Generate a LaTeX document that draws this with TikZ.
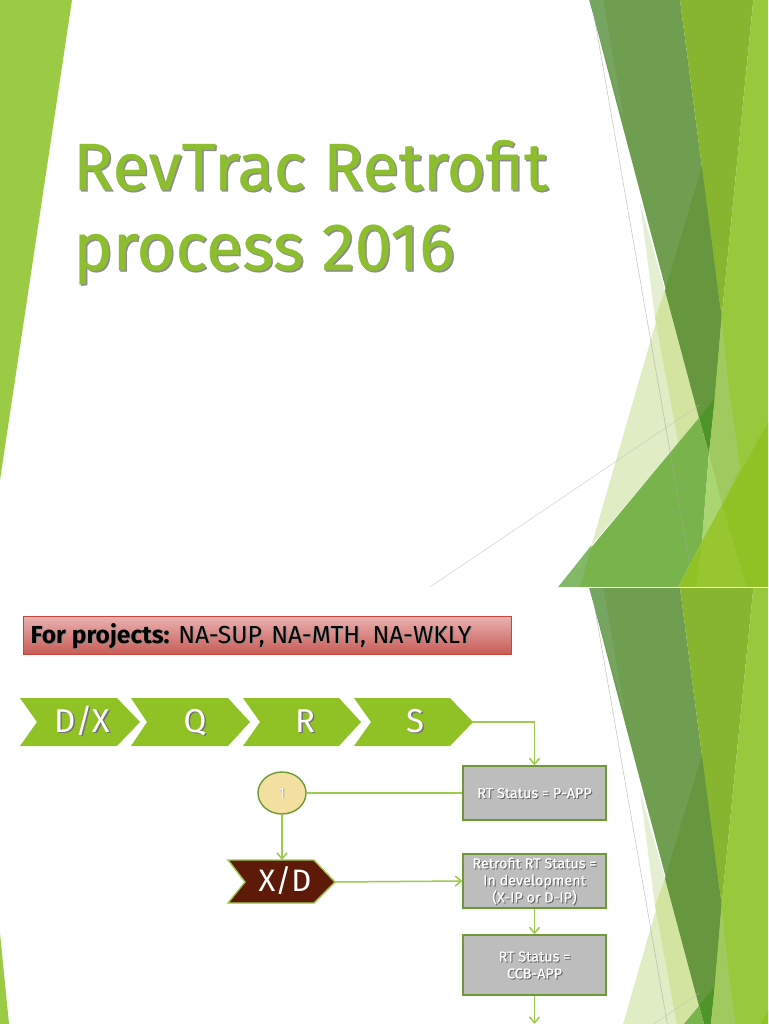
\documentclass[tikz,border=0pt]{standalone}
\usepackage{fontspec}
\setmainfont{Fira Sans}
\newfontfamily\titlef[FakeBold=0.6]{Fira Sans}
\newfontfamily\boxf[FakeBold=0.3]{Fira Sans}
\usetikzlibrary{arrows.meta,shapes.geometric}
\definecolor{ttl}{HTML}{8DBE2F}
\definecolor{lime}{HTML}{90C226}
\definecolor{lnk}{HTML}{9CCB4E}
\definecolor{bord}{HTML}{6E9A35}
\tikzset{
  chevron/.style={fill=lime,draw=none},
  chevtext/.style={text=white,font=\fontsize{33}{36}\selectfont,inner sep=0pt,anchor=base},
  chevshadow/.style={text=black!55,font=\fontsize{33}{36}\selectfont,inner sep=0pt,anchor=base},
  statusbox/.style={draw=bord,line width=1.3pt,fill=black!26,minimum width=143pt,inner sep=0pt},
  boxtext/.style={text=white,font=\boxf\fontsize{14.4}{17}\selectfont,align=center,inner sep=0pt},
  boxshadow/.style={text=black!60,font=\boxf\fontsize{14.4}{17}\selectfont,align=center,inner sep=0pt},
  link/.style={draw=lnk,line width=1.5pt},
  flow/.style={link,-{Straight Barb[length=6pt,width=10pt]}},
  titletext/.style={text=ttl,font=\titlef\fontsize{66.7}{70}\selectfont,anchor=base west,inner sep=0pt},
  titleshadow/.style={text=black!45,font=\titlef\fontsize{66.7}{70}\selectfont,anchor=base west,inner sep=0pt},
}
\newcommand{\facets}{%
  % pale triangles
  \fill[color={rgb,255:red,224;green,236;blue,196}] (375,760)--(477,1093)--(390,1185)--(155,1425)--cycle;
  \fill[color={rgb,255:red,228;green,238;blue,208}] (300,530)--(375,760)--(345,830)--cycle;
  \fill[color={rgb,255:red,211;green,227;blue,160}] (345,830)--(375,760)--(477,1093)--(415,1160)--cycle;
  % dark facet
  \fill[color={rgb,255:red,111;green,158;blue,80}] (148,0)--(420,0)--(545,830)--(525,1041)--(507,1185)--cycle;
  \fill[color={rgb,255:red,118;green,165;blue,98}] (148,0)--(190,0)--(255,330)--cycle;
  \fill[color={rgb,255:red,102;green,150;blue,62}] (488,430)--(375,760)--(477,1093)--(525,1041)--(545,830)--cycle;
  \fill[color={rgb,255:red,78;green,148;blue,40}] (477,1093)--(525,1041)--(507,1185)--cycle;
  % big triangle
  \fill[color={rgb,255:red,120;green,179;blue,76}] (55,1535)--(477,1093)--(507,1185)--(486,1417)--(414,1535)--cycle;
  \fill[color={rgb,255:red,130;green,184;blue,104}] (55,1535)--(155,1425)--(120,1535)--cycle;
  % thin lines
  \draw[black!35,opacity=.7,line width=.5pt] (160,30)--(450,1480);
  \draw[black!25,opacity=.7,line width=.5pt] (-330,1535)--(477,1060);
  % right facets
  \fill[color={rgb,255:red,135;green,181;blue,48}] (420,0)--(640,0)--(545,830)--cycle;
  \fill[color={rgb,255:red,152;green,201;blue,60}] (640,0)--(690,0)--(690,1535)--(470,1535)--(486,1417)--(545,830)--cycle;
  \fill[color={rgb,255:red,160;green,202;blue,96}] (545,830)--(565,1000)--(600,1224)--(546,1320)--(507,1185)--(525,1041)--cycle;
  \fill[color={rgb,255:red,170;green,214;blue,114}] (507,1185)--(546,1320)--(486,1417)--cycle;
  \fill[color=lime] (414,1535)--(486,1417)--(690,1096)--(690,1535)--cycle;
  \fill[color={rgb,255:red,152;green,198;blue,48}] (470,1535)--(486,1417)--(546,1320)--(620,1535)--cycle;
}
\begin{document}
\begin{tikzpicture}[x=1pt,y=-1pt]
\useasboundingbox (0,0) rectangle (768,1024);
\fill[white] (0,0) rectangle (768,1024);
% slide one
\fill[color={rgb,255:red,155;green,203;blue,69}] (0,0)--(72,0)--(0,480)--cycle;
\begin{scope}
  \clip (0,0) rectangle (768,587);
  \begin{scope}[shift={(540,0)},x=0.3333pt,y=-0.3824pt]
    \facets
  \end{scope}
\end{scope}
\node[titleshadow] (t1s) at (74.5,191.5) {RevTrac Retrofit};
\node[titleshadow] (t2s) at (74.5,271.5) {process 2016};
\node[titletext] (t1) at (73,190) {RevTrac Retrofit};
\node[titletext] (t2) at (73,270) {process 2016};
% slide two
\begin{scope}
  \clip (0,588) rectangle (768,1024);
  \begin{scope}[shift={(540,588)},x=0.3333pt,y=-0.3824pt]
    \facets
  \end{scope}
\end{scope}
\fill[color={rgb,255:red,155;green,203;blue,69}] (0,933)--(9,1024)--(0,1024)--cycle;
% banner
\node[draw={rgb,255:red,196;green,70;blue,60},line width=.7pt,top color={rgb,255:red,233;green,178;blue,178},bottom color={rgb,255:red,200;green,92;blue,86},
  minimum width=488pt,minimum height=38pt,inner sep=0pt] (banner) at (267,635) {};
\node[anchor=base west,inner sep=0pt,font=\fontsize{24.6}{28}\selectfont,text=black!45] (bs) at (31.5,644) {\textbf{For projects:} NA-SUP, NA-MTH, NA-WKLY};
\node[anchor=base west,inner sep=0pt,font=\fontsize{24.6}{28}\selectfont,text=black] (bt) at (30.5,643) {\textbf{For projects:} NA-SUP, NA-MTH, NA-WKLY};
% chevrons
\fill[chevron] (20,698)--(117,698)--(140,722)--(117,746)--(20,746)--(37,722)--cycle;
\fill[chevron] (131,698)--(228,698)--(250,722)--(228,746)--(131,746)--(147,722)--cycle;
\fill[chevron] (243,698)--(339,698)--(361,722)--(339,746)--(243,746)--(260,722)--cycle;
\fill[chevron] (354,698)--(450,698)--(473,722)--(450,746)--(354,746)--(371,722)--cycle;
\coordinate (stip) at (473,722);
\foreach \n/\x/\l in {a/82/{D/X},b/195/Q,c/305/R,d/415/S}{
  \node[chevshadow] (\n s) at (\x+1.5,733.5) {\l};
  \node[chevtext] (\n) at (\x,732) {\l};
}
% status boxes
\node[statusbox,minimum height=54pt] (b1) at (534.5,793) {};
\node[statusbox,minimum height=54pt] (b2) at (534.5,881) {};
\node[statusbox,minimum height=60pt] (b3) at (534.5,965) {};
\node[boxshadow] (b1s) at (535.5,794) {RT Status = P-APP};
\node[boxtext] (b1t) at (534.5,793) {RT Status = P-APP};
\node[boxshadow] (b2s) at (535.5,882) {Retrofit RT Status =\\In development\\(X-IP or D-IP)};
\node[boxtext] (b2t) at (534.5,881) {Retrofit RT Status =\\In development\\(X-IP or D-IP)};
\node[boxshadow] (b3s) at (535.5,966) {RT Status =\\CCB-APP};
\node[boxtext] (b3t) at (534.5,965) {RT Status =\\CCB-APP};
% circle
\node[draw=bord,line width=1.4pt,fill={rgb,255:red,243;green,224;blue,160},ellipse,minimum width=48pt,minimum height=42pt,inner sep=0pt] (one) at (282,793) {};
\node[boxshadow,font=\fontsize{15}{17}\selectfont] (ones) at (282.7,793.7) {1};
\node[boxtext,font=\fontsize{15}{17}\selectfont] (onet) at (282,793) {1};
% X/D
\filldraw[draw=lnk,line width=1.4pt,fill={rgb,255:red,94;green,26;blue,8}] (228,860)--(314,860)--(335,882)--(314,903)--(228,903)--(245,882)--cycle;
\coordinate (xtip) at (335,882);
\coordinate (xtop) at (282,860);
\node[chevtext,font=\fontsize{31}{34}\selectfont] (xd) at (285,891) {X/D};
% connectors
\coordinate (bottom) at (534.5,1024);
\draw[flow] (stip) -| (b1.north);
\draw[link] (one.east) -- (b1.west);
\draw[flow] (one.south) -- (xtop);
\draw[flow] (xtip) -- (b2.west);
\draw[flow] (b2.south) -- (b3.north);
\draw[flow] (b3.south) -- (bottom);
\end{tikzpicture}
\end{document}
